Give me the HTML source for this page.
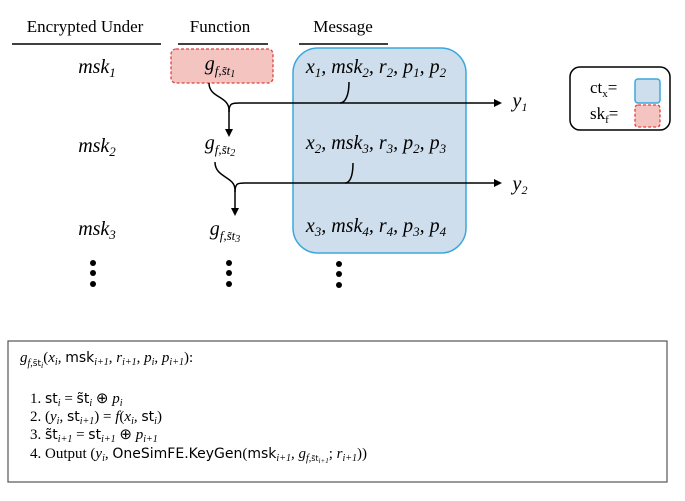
<!DOCTYPE html>
<html><head><meta charset="utf-8"><style>
html,body{margin:0;padding:0;background:#fff}
svg{display:block}
.s{font-family:"Liberation Serif",serif}
.m{font-family:"Liberation Serif",serif;font-style:italic}
.sf{font-family:"DejaVu Sans","Liberation Sans",sans-serif}
</style></head><body>
<svg width="685" height="501" viewBox="0 0 685 501" xmlns="http://www.w3.org/2000/svg">
<defs><marker id="a" markerWidth="8" markerHeight="8" refX="6" refY="4" orient="auto" markerUnits="userSpaceOnUse"><path d="M0,0 L8,4 L0,8 Z" fill="#000"/></marker></defs>
<g class="s" font-size="17" fill="#000" text-anchor="middle">
<text x="85" y="32">Encrypted Under</text>
<text x="220" y="32">Function</text>
<text x="343" y="32">Message</text>
</g>
<g stroke="#000" stroke-width="1.5">
<line x1="12" y1="44" x2="161" y2="44"/><line x1="178" y1="44" x2="268" y2="44"/><line x1="299" y1="44" x2="388" y2="44"/>
</g>
<rect x="293" y="48" width="173" height="205" rx="25" fill="#cfdeec" stroke="#3aa8dc" stroke-width="1.5"/>
<rect x="171" y="49" width="102" height="34" rx="5" fill="#f4c5c0" stroke="#e04040" stroke-width="1.3" stroke-dasharray="3,2"/>
<g class="m" font-size="20" text-anchor="middle">
<text x="97" y="73">msk<tspan font-size="13" dy="4">1</tspan></text>
<text x="97" y="152">msk<tspan font-size="13" dy="4">2</tspan></text>
<text x="97" y="235">msk<tspan font-size="13" dy="4">3</tspan></text>
<text x="220" y="70">g<tspan font-size="13" dy="5">f,</tspan><tspan font-size="13">s̃t</tspan><tspan font-size="10" dy="2">1</tspan></text>
<text x="220" y="149">g<tspan font-size="13" dy="5">f,</tspan><tspan font-size="13">s̃t</tspan><tspan font-size="10" dy="2">2</tspan></text>
<text x="225" y="235">g<tspan font-size="13" dy="5">f,</tspan><tspan font-size="13">s̃t</tspan><tspan font-size="10" dy="2">3</tspan></text>
<text x="376" y="73">x<tspan font-size="13" dy="4">1</tspan><tspan dy="-4">, msk</tspan><tspan font-size="13" dy="4">2</tspan><tspan dy="-4">, r</tspan><tspan font-size="13" dy="4">2</tspan><tspan dy="-4">, p</tspan><tspan font-size="13" dy="4">1</tspan><tspan dy="-4">, p</tspan><tspan font-size="13" dy="4">2</tspan></text>
<text x="376" y="149">x<tspan font-size="13" dy="4">2</tspan><tspan dy="-4">, msk</tspan><tspan font-size="13" dy="4">3</tspan><tspan dy="-4">, r</tspan><tspan font-size="13" dy="4">3</tspan><tspan dy="-4">, p</tspan><tspan font-size="13" dy="4">2</tspan><tspan dy="-4">, p</tspan><tspan font-size="13" dy="4">3</tspan></text>
<text x="376" y="232">x<tspan font-size="13" dy="4">3</tspan><tspan dy="-4">, msk</tspan><tspan font-size="13" dy="4">4</tspan><tspan dy="-4">, r</tspan><tspan font-size="13" dy="4">4</tspan><tspan dy="-4">, p</tspan><tspan font-size="13" dy="4">3</tspan><tspan dy="-4">, p</tspan><tspan font-size="13" dy="4">4</tspan></text>
<text x="520" y="107">y<tspan font-size="12" dy="4">1</tspan></text>
<text x="520" y="190">y<tspan font-size="12" dy="4">2</tspan></text>
</g>
<g fill="none" stroke="#000" stroke-width="1.5">
<path d="M209,83 C209,98 229,96 229,110 L229,135" marker-end="url(#a)"/>
<path d="M229,112 C229,103 232,103 240,103 L500,103" marker-end="url(#a)"/>
<path d="M349,82 C349,96 345,103 340,103"/>
<path d="M215,162 C215,178 235,176 235,190 L235,214" marker-end="url(#a)"/>
<path d="M235,192 C235,183 238,183 245,183 L500,183" marker-end="url(#a)"/>
<path d="M353,163 C353,176 350,183 345,183"/>
</g>
<g fill="#000">
<circle cx="93" cy="263" r="3"/><circle cx="93" cy="273" r="3"/><circle cx="93" cy="284" r="3"/>
<circle cx="229" cy="263" r="3"/><circle cx="229" cy="273" r="3"/><circle cx="229" cy="284" r="3"/>
<circle cx="339" cy="264" r="3"/><circle cx="339" cy="274" r="3"/><circle cx="339" cy="285" r="3"/>
</g>
<rect x="570" y="67" width="100" height="63" rx="10" fill="#fff" stroke="#000" stroke-width="1.5"/>
<g class="s" font-size="17">
<text x="590" y="93">ct<tspan font-size="11" dy="4">x</tspan><tspan dy="-4">=</tspan></text>
<text x="590" y="119">sk<tspan font-size="11" dy="4">f</tspan><tspan dy="-4">=</tspan></text>
</g>
<rect x="635" y="79" width="25" height="24" rx="3" fill="#cfdeec" stroke="#3aa8dc" stroke-width="1.5"/>
<rect x="635" y="105" width="25" height="22" rx="3" fill="#f4c5c0" stroke="#e04040" stroke-width="1.3" stroke-dasharray="3,2"/>
<rect x="8" y="341" width="659" height="141" fill="#fff" stroke="#555" stroke-width="1.2"/>
<g font-size="15" fill="#000">
<text x="20" y="362" class="m">g<tspan font-size="10" dy="4">f,</tspan><tspan font-size="9" class="sf" font-style="normal">s̃t</tspan><tspan font-size="8" dy="2">i</tspan><tspan class="s" font-style="normal" dy="-6">(</tspan>x<tspan font-size="10" dy="3">i</tspan><tspan class="s" font-style="normal" dy="-3">, </tspan><tspan class="sf" font-style="normal" font-size="14">msk</tspan><tspan font-size="10" dy="3">i+1</tspan><tspan class="s" font-style="normal" dy="-3">, </tspan>r<tspan font-size="10" dy="3">i+1</tspan><tspan class="s" font-style="normal" dy="-3">, </tspan>p<tspan font-size="10" dy="3">i</tspan><tspan class="s" font-style="normal" dy="-3">, </tspan>p<tspan font-size="10" dy="3">i+1</tspan><tspan class="s" font-style="normal" dy="-3">):</tspan></text>
<text x="30" y="403" class="s">1.  <tspan class="sf" font-size="14">st</tspan><tspan class="m" font-size="10" dy="3">i</tspan><tspan dy="-3"> = </tspan><tspan class="sf" font-size="14">s̃t</tspan><tspan class="m" font-size="10" dy="3">i</tspan><tspan dy="-3"> ⊕ </tspan><tspan class="m">p</tspan><tspan class="m" font-size="10" dy="3">i</tspan></text>
<text x="30" y="421" class="s">2.  (<tspan class="m">y</tspan><tspan class="m" font-size="10" dy="3">i</tspan><tspan dy="-3">, </tspan><tspan class="sf" font-size="14">st</tspan><tspan class="m" font-size="10" dy="3">i+1</tspan><tspan dy="-3">) = </tspan><tspan class="m">f</tspan>(<tspan class="m">x</tspan><tspan class="m" font-size="10" dy="3">i</tspan><tspan dy="-3">, </tspan><tspan class="sf" font-size="14">st</tspan><tspan class="m" font-size="10" dy="3">i</tspan><tspan dy="-3">)</tspan></text>
<text x="30" y="439" class="s">3.  <tspan class="sf" font-size="14">s̃t</tspan><tspan class="m" font-size="10" dy="3">i+1</tspan><tspan dy="-3"> = </tspan><tspan class="sf" font-size="14">st</tspan><tspan class="m" font-size="10" dy="3">i+1</tspan><tspan dy="-3"> ⊕ </tspan><tspan class="m">p</tspan><tspan class="m" font-size="10" dy="3">i+1</tspan></text>
<text x="30" y="458" class="s">4.  Output (<tspan class="m">y</tspan><tspan class="m" font-size="10" dy="3">i</tspan><tspan dy="-3">, </tspan><tspan class="sf" font-size="14">OneSimFE.KeyGen</tspan>(<tspan class="sf" font-size="14">msk</tspan><tspan class="m" font-size="10" dy="3">i+1</tspan><tspan dy="-3">, </tspan><tspan class="m">g</tspan><tspan class="m" font-size="10" dy="3">f,</tspan><tspan class="sf" font-size="8">s̃t</tspan><tspan class="m" font-size="7" dy="2">i+1</tspan><tspan dy="-5">; </tspan><tspan class="m">r</tspan><tspan class="m" font-size="10" dy="3">i+1</tspan><tspan dy="-3">))</tspan></text>
</g>
</svg>
</body></html>
